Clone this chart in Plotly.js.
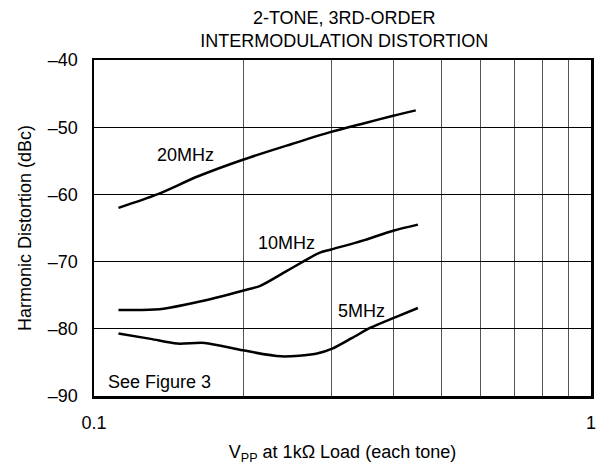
<!DOCTYPE html>
<html>
<head>
<meta charset="utf-8">
<script src="https://cdn.plot.ly/plotly-3.0.1.min.js"></script>
<style>html,body{margin:0;padding:0;background:#fff;}#chart{width:600px;height:468px;}</style>
</head>
<body>
<div id="chart"></div>
<script>
// Data
const x20 = [0.112, 0.134, 0.162, 0.2, 0.25, 0.3, 0.35, 0.4, 0.444];
const y20 = [-62.0, -60.0, -57.3, -54.8, -52.5, -50.7, -49.4, -48.3, -47.5];

const x10 = [0.112, 0.125, 0.138, 0.16, 0.2, 0.216, 0.2415, 0.265, 0.284, 0.3, 0.35, 0.4, 0.4485];
const y10 = [-77.2, -77.2, -77.0, -76.1, -74.3, -73.6, -71.6, -69.9, -68.7, -68.2, -66.8, -65.4, -64.5];

const x5 = [0.112, 0.13, 0.147, 0.167, 0.1994, 0.2378, 0.2797, 0.3025, 0.33, 0.361, 0.4, 0.4485];
const y5 = [-80.7, -81.5, -82.2, -82.1, -83.2, -84.1, -83.7, -82.9, -81.4, -79.8, -78.4, -76.9];

const seriesNames = ["20MHz", "10MHz", "5MHz"];
const labelX = [0.1528, 0.2444, 0.345];
const labelY = [-54.1, -67.3, -77.4];

const yTickVals = [-40, -50, -60, -70, -80, -90];
const yTickText = ["\u201340", "\u201350", "\u201360", "\u201370", "\u201380", "\u201390"];
const xTickVals = [0.1, 1];
const xTickText = ["0.1", "1"];
const xGridVals = [0.2, 0.3, 0.4, 0.5, 0.6, 0.7, 0.8, 0.9];

const FONT = "Liberation Sans, Arial, Helvetica, sans-serif";
const FS = 18;
const lineStyle = {color: "#000", width: 2.5, shape: "spline", smoothing: 0.8};

const data = [
  {x: x20, y: y20, name: seriesNames[0], mode: "lines", line: lineStyle},
  {x: x10, y: y10, name: seriesNames[1], mode: "lines", line: lineStyle},
  {x: x5, y: y5, name: seriesNames[2], mode: "lines", line: lineStyle}
];

const annotations = seriesNames.map((n, i) => ({
  x: Math.log10(labelX[i]), y: labelY[i], xref: "x", yref: "y",
  text: n, showarrow: false, font: {family: FONT, size: FS, color: "#000"}
}));
annotations.push({
  x: 0.024, y: -87.9, xref: "paper", yref: "y", xanchor: "left",
  text: "See Figure 3", showarrow: false, font: {family: FONT, size: FS, color: "#000"}
});

const layout = {
  width: 600, height: 468,
  margin: {l: 94, r: 9, t: 60, b: 72},
  paper_bgcolor: "#fff", plot_bgcolor: "#fff",
  showlegend: false,
  font: {family: FONT, size: FS, color: "#000"},
  title: {
    text: "2-TONE, 3RD-ORDER<br>INTERMODULATION DISTORTION",
    x: 0.5738, xanchor: "center", yref: "container", y: 1 - 24 / 468, yanchor: "top",
    pad: {t: 0, b: 0},
    font: {family: FONT, size: FS, color: "#000"}
  },
  xaxis: {
    type: "log", range: [-1, 0],
    tickmode: "array", tickvals: xTickVals, ticktext: xTickText,
    showgrid: true, gridcolor: "#555", gridwidth: 1,
    minor: {tickmode: "array", tickvals: xGridVals, showgrid: true, gridcolor: "#555", gridwidth: 1, ticks: ""},
    showline: true, linecolor: "#000", linewidth: 2.5, mirror: true,
    ticks: "", ticklabelstandoff: 9,
    zeroline: false,
    title: {text: "V<sub>PP</sub> at 1k\u03A9 Load (each tone)", standoff: 14,
      font: {family: FONT, size: FS, color: "#000"}}
  },
  yaxis: {
    range: [-90, -40],
    tickmode: "array", tickvals: yTickVals, ticktext: yTickText,
    showgrid: true, gridcolor: "#000", gridwidth: 1,
    showline: true, linecolor: "#000", linewidth: 2.5, mirror: true,
    ticks: "", ticklabelstandoff: 10,
    zeroline: false,
    title: {text: "Harmonic Distortion (dBc)", standoff: 12,
      font: {family: FONT, size: FS, color: "#000"}}
  },
  annotations: annotations
};

Plotly.newPlot("chart", data, layout, {displayModeBar: false, staticPlot: true});
</script>
</body>
</html>
